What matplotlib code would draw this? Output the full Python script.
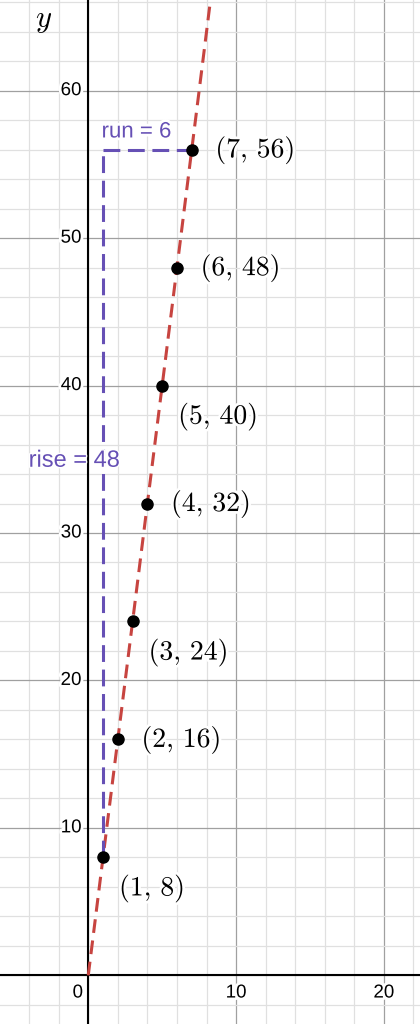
import matplotlib
matplotlib.use("Agg")
import matplotlib.pyplot as plt
import matplotlib.patheffects as pe
import numpy as np

# data
xs = [1, 2, 3, 4, 5, 6, 7]
ys = [8, 16, 24, 32, 40, 48, 56]
slope = 8
label_side = ["below", "right", "below", "right", "below", "right", "right"]
x_ticks = [0, 10, 20]
y_ticks = [10, 20, 30, 40, 50, 60]

red = "#c74440"
purple = "#6650b5"

plt.rcParams["mathtext.fontset"] = "cm"
plt.rcParams["font.family"] = ["Liberation Sans", "DejaVu Sans"]

fig = plt.figure(figsize=(4.2, 10.24), dpi=100)
ax = fig.add_axes([0, 0, 1, 1])
xmin, xmax = -5.97, 22.44
ymin, ymax = -3.30, 66.15
ax.set_xlim(xmin, xmax)
ax.set_ylim(ymin, ymax)
ax.axis("off")

# grid
for gx in np.arange(-4, 23, 2):
    major = gx % 10 == 0
    ax.axvline(gx, color="#a0a0a0" if major else "#e0e0e0", lw=0.9, zorder=0)
for gy in np.arange(-2, 67, 2):
    major = gy % 10 == 0
    ax.axhline(gy, color="#a0a0a0" if major else "#e0e0e0", lw=0.9, zorder=0)

# axes
ax.axvline(0, color="black", lw=1.5, zorder=1)
ax.axhline(0, color="black", lw=1.5, zorder=1)

halo = [pe.withStroke(linewidth=4, foreground="white")]
for t in x_ticks:
    xpos = t - 0.35 if t == 0 else t
    ax.text(xpos, -1.2, str(t), ha="center" if t else "right", va="center",
            fontsize=13.5, path_effects=halo, zorder=2)
for t in y_ticks:
    ax.text(-0.45, t, str(t), ha="right", va="center", fontsize=13.5,
            path_effects=halo, zorder=2)
ax.text(-3.0, 64.8, "$y$", ha="center", va="center", fontsize=22, zorder=2)

# line y = 8x
lx = np.array([0, ymax / slope + 0.5])
ax.plot(lx, slope * lx, color=red, lw=2.2, ls=(0, (4.5, 2.5)), zorder=3)

# rise / run
ax.plot([xs[0], xs[0]], [ys[0], ys[-1]], color=purple, lw=2.2,
        ls=(0, (5.5, 2.5)), zorder=3)
ax.plot([xs[0], xs[-1]], [ys[-1], ys[-1]], color=purple, lw=2.2,
        ls=(0, (5.5, 2.5)), zorder=3)
rise = ys[-1] - ys[0]
run = xs[-1] - xs[0]
ax.text(xs[0] - 0.1, ys[-1] + 1.2, "run = %d" % run, color=purple,
        fontsize=16, ha="left", va="center", path_effects=halo, zorder=4)
ax.text(xs[0] + 1.15, (ys[0] + ys[-1]) / 2 + 2.9, "rise = %d" % rise,
        color=purple, fontsize=17, ha="right", va="center",
        path_effects=[pe.withStroke(linewidth=2, foreground="white")], zorder=4)

# points
ax.plot(xs, ys, "o", color="black", ms=8, zorder=5)
for x, y, side in zip(xs, ys, label_side):
    off = (17, 0) if side == "right" else (11.5, -22)
    ax.annotate(r"$(%d,\,%d)$" % (x, y), (x, y), xytext=off,
                textcoords="offset points", ha="left", va="center",
                fontsize=20, path_effects=halo, zorder=6)

fig.savefig("out.png", dpi=100)
